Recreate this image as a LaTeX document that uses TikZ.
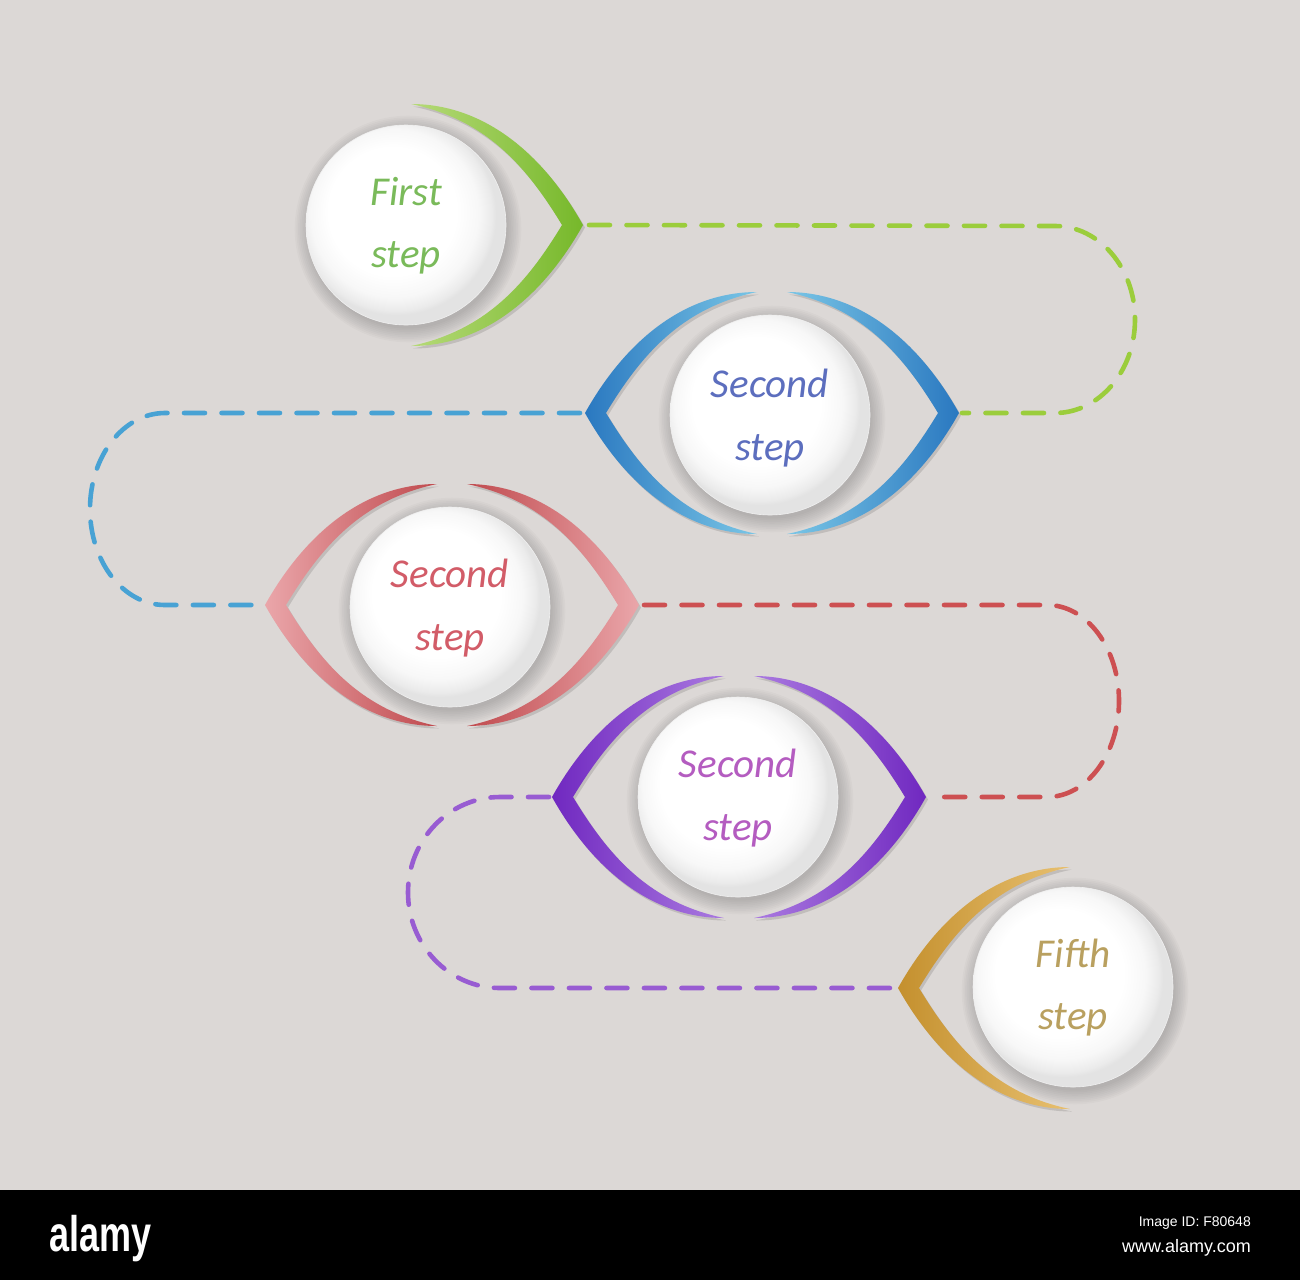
\documentclass[tikz,border=0pt]{standalone}
\usepackage{fontspec}
\setmainfont{Carlito}
\newfontfamily\logofont[FakeStretch=0.72]{Liberation Sans}
\newfontfamily\infofont{Liberation Sans}
\definecolor{bg}{RGB}{220,216,214}
\definecolor{gTip}{RGB}{118,184,42}
\definecolor{gEnd}{RGB}{182,218,120}
\definecolor{gDash}{RGB}{155,205,60}
\definecolor{gText}{RGB}{122,186,90}
\definecolor{bTip}{RGB}{42,120,192}
\definecolor{bEnd}{RGB}{122,198,230}
\definecolor{bDash}{RGB}{72,162,212}
\definecolor{bText}{RGB}{92,110,190}
\definecolor{rTip}{RGB}{234,166,170}
\definecolor{rEnd}{RGB}{192,74,78}
\definecolor{rDash}{RGB}{205,80,82}
\definecolor{rText}{RGB}{210,92,104}
\definecolor{pTip}{RGB}{112,40,192}
\definecolor{pEnd}{RGB}{170,122,224}
\definecolor{pDash}{RGB}{152,92,210}
\definecolor{pText}{RGB}{180,92,192}
\definecolor{oTip}{RGB}{196,144,46}
\definecolor{oEnd}{RGB}{232,192,112}
\definecolor{oText}{RGB}{185,160,95}
\pgfdeclareradialshading{stepball}{\pgfpoint{-5bp}{5bp}}{color(0bp)=(white); color(16bp)=(white); color(21bp)=(black!3); color(24bp)=(black!8); color(25bp)=(black!11); color(50bp)=(black!11)}
% one arm of an eye: #1 cx, #2 cy, #3 side (1 = tip on the left), #4 up(1)/down(-1), #5 options
\newcommand\armdraw[5]{%
  \path[#5] ({#1+#3*(-187)},{#2}) .. controls ({#1+#3*(-145)},{#2+#4*75}) and ({#1+#3*(-85)},{#2+#4*121}) .. ({#1+#3*(-15)},{#2+#4*121})
    .. controls ({#1+#3*(-92)},{#2+#4*105}) and ({#1+#3*(-132)},{#2+#4*56}) .. ({#1+#3*(-166)},{#2}) -- cycle;}
\newcommand\arm[6]{%
  \armdraw{#1}{#2}{#3}{#4}{fill=black,opacity=0.12,shift={(2,-2.5)}}%
  \armdraw{#1}{#2}{#3}{#4}{left color=#5,right color=#6}}
\newcommand\eyeshape[4]{%
  \arm{#1}{#2}{1}{1}{#3}{#4}\arm{#1}{#2}{1}{-1}{#3}{#4}%
  \arm{#1}{#2}{-1}{1}{#4}{#3}\arm{#1}{#2}{-1}{-1}{#4}{#3}}
\newcommand\ballshadow[2]{\foreach \k in {1,...,9}{\fill[black,opacity=0.02] ({#1+2},{#2-4}) circle ({98+1.7*\k});}}
\begin{document}
\begin{tikzpicture}[x=1pt,y=1pt,
  dashline/.style={line width=4.6pt,line cap=round,dash pattern=on 21pt off 16.5pt},
  ballnode/.style={circle,minimum size=200pt,inner sep=0pt,shading=stepball,draw=black!6,line width=0.6pt},
  steptext/.style={anchor=base,inner sep=0pt,font=\fontsize{41}{49}\selectfont\itshape}]
\useasboundingbox (0,0) rectangle (1300,-1280);
\fill[bg] (0,0) rectangle (1300,-1190);
\fill[black] (0,-1190) rectangle (1300,-1280);

% eyes and chevrons
\arm{396}{-225}{-1}{1}{gEnd}{gTip}
\arm{396}{-225}{-1}{-1}{gEnd}{gTip}
\eyeshape{772}{-413}{bTip}{bEnd}
\eyeshape{452}{-605}{rTip}{rEnd}
\eyeshape{739}{-797}{pTip}{pEnd}
\arm{1085}{-988}{1}{1}{oTip}{oEnd}
\arm{1085}{-988}{1}{-1}{oTip}{oEnd}

% connector end points
\coordinate (g1) at (589,-225);
\coordinate (b2r) at (962,-413);
\coordinate (b2l) at (580,-413);
\coordinate (r3l) at (262,-605);
\coordinate (r3r) at (644,-605);
\coordinate (p4r) at (930,-797);
\coordinate (p4l) at (549,-797);
\coordinate (o5) at (896,-988);

% dashed connectors
\draw[dashline,gDash] (g1) -- (1055,-226) arc[start angle=90,end angle=-90,x radius=80,y radius=93.5] -- (b2r);
\draw[dashline,bDash] (b2l) -- (165,-413) arc[start angle=90,end angle=270,x radius=75,y radius=96] -- (r3l);
\draw[dashline,rDash] (r3r) -- (1047,-605) arc[start angle=90,end angle=-90,x radius=72,y radius=96] -- (p4r);
\draw[dashline,pDash] (p4l) -- (500,-797) arc[start angle=90,end angle=270,x radius=92,y radius=95.5] -- (o5);

% circles
\ballshadow{406}{-225}
\node[ballnode] (c1) at (406,-225) {};
\ballshadow{770}{-415}
\node[ballnode] (c2) at (770,-415) {};
\ballshadow{450}{-607}
\node[ballnode] (c3) at (450,-607) {};
\ballshadow{738}{-797}
\node[ballnode] (c4) at (738,-797) {};
\ballshadow{1073}{-987}
\node[ballnode] (c5) at (1073,-987) {};

% texts
\node[steptext,text=gText] (t1a) at (406,-205) {First};
\node[steptext,text=gText] (t1b) at (406,-267) {step};
\node[steptext,text=bText] (t2a) at (770,-397) {Second};
\node[steptext,text=bText] (t2b) at (770,-460) {step};
\node[steptext,text=rText] (t3a) at (450,-587) {Second};
\node[steptext,text=rText] (t3b) at (450,-650) {step};
\node[steptext,text=pText] (t4a) at (738,-777) {Second};
\node[steptext,text=pText] (t4b) at (738,-840) {step};
\node[steptext,text=oText] (t5a) at (1073,-967) {Fifth};
\node[steptext,text=oText] (t5b) at (1073,-1029) {step};

% bottom bar
\node[anchor=base west,inner sep=0pt,text=white,font=\logofont\bfseries\fontsize{50}{50}\selectfont] (logo) at (49,-1251) {alamy};
\node[anchor=base east,inner sep=0pt,text=white,font=\infofont\fontsize{14}{14}\selectfont] (imgid) at (1251,-1226) {Image ID: F80648};
\node[anchor=base east,inner sep=0pt,text=white,font=\infofont\fontsize{18}{18}\selectfont] (www) at (1251,-1252) {www.alamy.com};
\end{tikzpicture}
\end{document}
